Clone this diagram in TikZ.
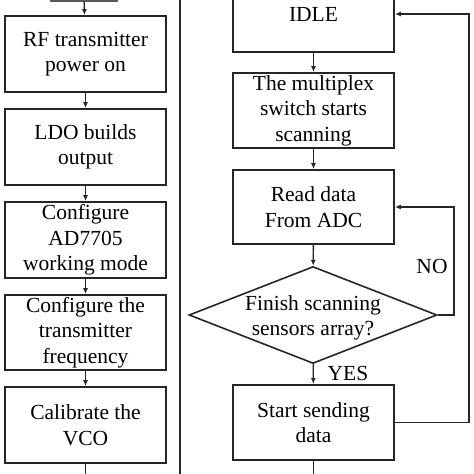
\documentclass[tikz,border=0pt]{standalone}
\usepackage{fontspec}
\setmainfont{Liberation Serif}
\usetikzlibrary{shapes.geometric,arrows.meta}
\begin{document}
\begin{tikzpicture}[x=1pt,y=-1pt,
  box/.style={draw=black!85, line width=1.8pt, minimum width=161pt, align=center, inner sep=0pt, font=\fontsize{21.5}{25.5}\selectfont},
  conn/.style={draw=black!85, line width=1.4pt, -{Latex[length=6pt,width=5pt]}},
  plain/.style={draw=black!85, line width=1.4pt},
  lab/.style={font=\fontsize{21.5}{25.5}\selectfont, inner sep=0pt}]
\useasboundingbox (0,0) rectangle (474,474);
% separator
\draw[line width=1.2pt, black!85] (180,0) -- (180,474);
% left column
\node[fill=black!65, minimum width=68pt, minimum height=14pt, inner sep=0pt] (top) at (84,-5) {};
\node[box, minimum height=76pt] (b1) at (85.5,54) {RF transmitter\\power on};
\node[box, minimum height=76pt] (b2) at (85.5,147) {LDO builds\\output};
\node[box, minimum height=76pt] (b3) at (85.5,240) {Configure\\AD7705\\working mode};
\node[box, minimum height=75pt] (b4) at (85.5,332.5) {Configure the\\transmitter\\frequency};
\node[box, minimum height=76pt] (b5) at (85.5,425) {Calibrate the\\VCO};
\coordinate (lend) at (85.5,474);
\draw[conn] (top) -- (b1);
\draw[conn] (b1) -- (b2);
\draw[conn] (b2) -- (b3);
\draw[conn] (b3) -- (b4);
\draw[conn] (b4) -- (b5);
\draw[plain] (b5) -- (lend);
% right column
\node[box, minimum height=76pt] (idle) at (313.5,14) {\raisebox{-3pt}{IDLE}};
\node[box, minimum height=75pt] (mux) at (313.5,110.5) {The multiplex\\switch starts\\scanning};
\node[box, minimum height=74pt] (read) at (313.5,207) {Read data\\From ADC};
\node[draw=black!85, line width=1.6pt, diamond, minimum width=248pt, minimum height=97pt, inner sep=0pt] (dec) at (313,315) {};
\node[lab, align=center] (dectext) at (313,318) {Finish scanning\\sensors array?};
\node[box, minimum height=75pt] (send) at (313.5,422.5) {Start sending\\data};
\coordinate (rend) at (313.5,474);
\draw[conn] (idle) -- (mux);
\draw[conn] (mux) -- (read);
\draw[conn] (read) -- (dec);
\draw[conn] (dec) -- (send);
\draw[plain] (send) -- (rend);
% NO loop
\draw[conn] (dec.east) -| (454,207) -- (read.east);
% outer loop
\draw[conn] (send.east) -| (469,14) -- (idle.east);
% labels
\node[lab] (no) at (432,266) {NO};
\node[lab] (yes) at (348,373) {YES};
\end{tikzpicture}
\end{document}
